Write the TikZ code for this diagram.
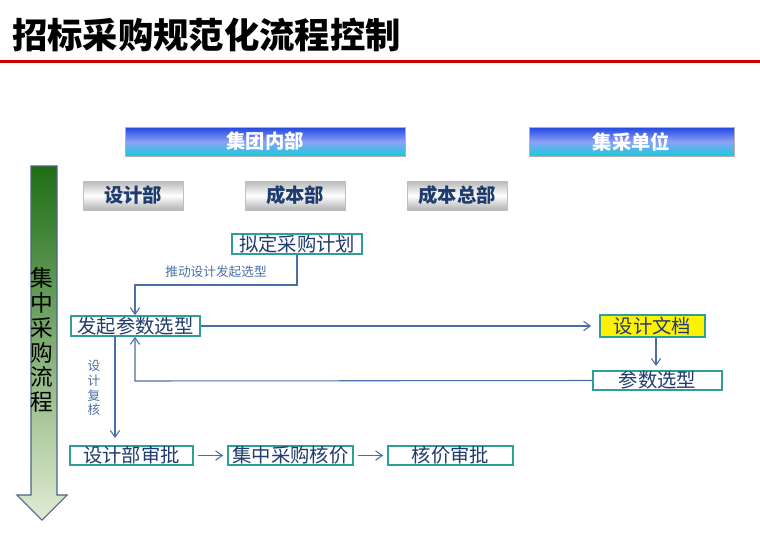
\documentclass[tikz,border=0pt]{standalone}
\usepackage{fontspec}
\setmainfont{Noto Sans CJK SC}
\usetikzlibrary{arrows.meta}
\definecolor{tealb}{HTML}{2E9E96}
\definecolor{dblue}{HTML}{1F3C6E}
\definecolor{conn}{HTML}{4A6FA5}
\tikzset{
 proc/.style={draw=tealb,line width=1.2pt,fill=white,inner sep=0pt,text=dblue,font=\fontsize{14.5}{15}\selectfont},
 hdr/.style={draw=gray!60,top color={rgb,255:red,30;green,70;blue,225},bottom color={rgb,255:red,20;green,205;blue,220},middle color={rgb,255:red,140;green,160;blue,245},text=white,font=\bfseries\fontsize{14.5}{15}\selectfont,inner sep=0pt},
 btn/.style={draw=gray!50,top color=gray!55,bottom color=gray!60,middle color=white,text=dblue,font=\bfseries\fontsize{14.5}{15}\selectfont,inner sep=0pt},
 cn/.style={draw=conn,line width=0.8pt,-{Straight Barb[length=5pt,width=7pt]}},
 lbl/.style={text=conn,font=\fontsize{9.5}{11}\selectfont,inner sep=1pt}
}
\begin{document}
\begin{tikzpicture}[x=0.75pt,y=-0.75pt]
\useasboundingbox (0,0) rectangle (760,543);
\node[font=\bfseries\fontsize{26.5}{28}\selectfont,anchor=west,inner sep=0pt] (title) at (12,35) {招标采购规范化流程控制};
\fill[red!80!black] (0,60) rectangle (760,63);
% headers
\node[hdr,minimum width=280*0.75pt,minimum height=29*0.75pt] (h1) at (265,141.5) {集团内部};
\node[hdr,minimum width=205*0.75pt,minimum height=29*0.75pt] (h2) at (631.5,141.5) {集采单位};
\node[btn,minimum width=100*0.75pt,minimum height=29*0.75pt] (b1) at (133,195.5) {设计部};
\node[btn,minimum width=100*0.75pt,minimum height=29*0.75pt] (b2) at (295,195.5) {成本部};
\node[btn,minimum width=100*0.75pt,minimum height=29*0.75pt] (b3) at (457,195.5) {成本总部};
% big arrow
\shade[top color={rgb,255:red,30;green,110;blue,20},bottom color={rgb,255:red,225;green,235;blue,210},draw=dblue!80,line width=0.8pt]
 (31,166) -- (57,166) -- (57,495) -- (67,495) -- (42,520) -- (17,495) -- (31,495) -- cycle;
\node[font=\fontsize{17}{18.6}\selectfont,align=center,text width=20pt,inner sep=0pt] (vt) at (42,340) {集\\中\\采\\购\\流\\程};
% process boxes
\node[proc,minimum width=130*0.75pt,minimum height=20*0.75pt] (p1) at (297,244) {拟定采购计划};
\node[proc,minimum width=129*0.75pt,minimum height=20*0.75pt] (p2) at (135.5,326) {发起参数选型};
\node[proc,fill=yellow,minimum width=105*0.75pt,minimum height=22*0.75pt] (p3) at (652.5,326) {设计文档};
\node[proc,minimum width=129*0.75pt,minimum height=19*0.75pt] (p4) at (657.5,380.5) {参数选型};
\node[proc,minimum width=123*0.75pt,minimum height=19*0.75pt] (p5) at (131.5,455.5) {设计部审批};
\node[proc,minimum width=125*0.75pt,minimum height=19*0.75pt] (p6) at (290.5,455.5) {集中采购核价};
\node[proc,minimum width=125*0.75pt,minimum height=19*0.75pt] (p7) at (450.5,455.5) {核价审批};
% connectors
\coordinate (c1) at (297,285);
\coordinate (c2) at (135,285);
\draw[cn] (p1.south) -- (c1) -- (c2) -- (p2.north -| c2);
\node[lbl] (l1) at (216,272) {推动设计发起选型};
\draw[cn] (p2.east) -- ([xshift=-6pt]p3.west);
\coordinate (d1) at (656,338);
\coordinate (d2) at (656,366);
\draw[cn] (d1) -- (d2);
\coordinate (c3) at (135,381);
\draw[cn] (p4.west) -- (c3) -- (p2.south -| c3);
\coordinate (c4) at (115,336);
\coordinate (c5) at (115,438);
\draw[cn] (c4) -- (c5);
\node[lbl,align=center,text width=12pt] (l2) at (94,388) {设\\计\\复\\核};
\draw[cn] ([xshift=3pt]p5.east) -- ([xshift=-3pt]p6.west);
\draw[cn] ([xshift=3pt]p6.east) -- ([xshift=-3pt]p7.west);
\end{tikzpicture}
\end{document}
